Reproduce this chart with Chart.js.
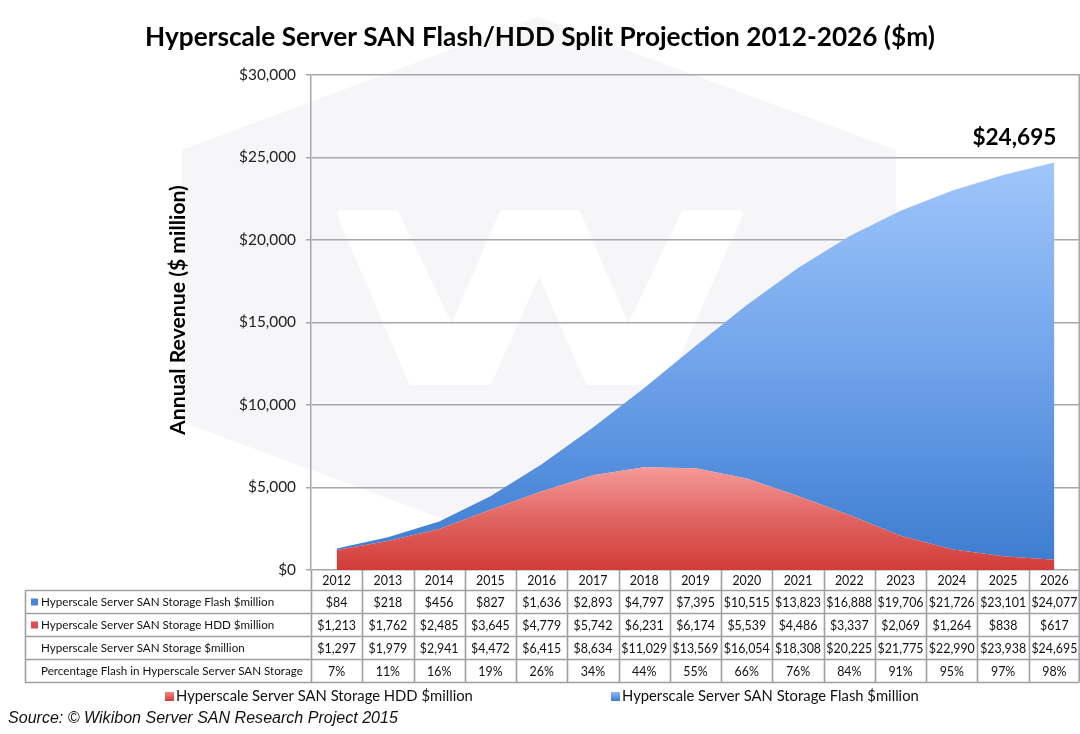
<!DOCTYPE html>
<html><head><meta charset="utf-8">
<script src="https://cdn.jsdelivr.net/npm/chart.js@4/dist/chart.umd.min.js"></script>
<style>html,body{margin:0;padding:0;background:#fff}#wrap{width:1080px;height:734px;position:relative}</style>
</head><body><div id="wrap"><canvas id="c" width="1080" height="734"></canvas></div>
<script>
const years = ['2012','2013','2014','2015','2016','2017','2018','2019','2020','2021','2022','2023','2024','2025','2026'];
const flash = [84,218,456,827,1636,2893,4797,7395,10515,13823,16888,19706,21726,23101,24077];
const hdd = [1213,1762,2485,3645,4779,5742,6231,6174,5539,4486,3337,2069,1264,838,617];
const total = [1297,1979,2941,4472,6415,8634,11029,13569,16054,18308,20225,21775,22990,23938,24695];
const pctFlash = [7,11,16,19,26,34,44,55,66,76,84,91,95,97,98];
const seriesNames = ['Hyperscale Server SAN Storage Flash $million','Hyperscale Server SAN Storage HDD $million'];
const rowLabels = ['Hyperscale Server SAN Storage Flash $million','Hyperscale Server SAN Storage HDD $million','Hyperscale Server SAN Storage $million','Percentage Flash in Hyperscale Server SAN Storage'];
const titleText = 'Hyperscale Server SAN Flash/HDD Split Projection 2012-2026 ($m)';
const yTitle = 'Annual Revenue ($ million)';
const sourceText = 'Source: \u00A9 Wikibon Server SAN Research Project 2015';
const calloutText = '$24,695';

const FAM = 'Lato, "Open Sans", sans-serif';
const mc = document.createElement('canvas').getContext('2d');
function fit(text, weight, family, target, base){ mc.font = weight+' '+base+'px '+family; return base*target/mc.measureText(text).width; }
const money = v => '$' + Number(v).toLocaleString('en-US');
const tickSize = fit('$30,000','normal',FAM,57,14);

function grad(ctx, yTopVal, stops){
  const chart = ctx.chart; if(!chart.chartArea) return stops[stops.length-1];
  const y = chart.scales.y;
  const g = chart.ctx.createLinearGradient(0, y.getPixelForValue(yTopVal), 0, y.getPixelForValue(0));
  stops.forEach((c,i)=>g.addColorStop(i/(stops.length-1), c));
  return g;
}
const blueStops = ['#a0c6fb','#6fa3ea','#3b7bcf'];
const redStops = ['#f59a98','#e06461','#d23c38'];

const bg = {id:'bg', beforeDraw(chart){
  const c = chart.ctx; c.save();
  c.fillStyle = '#fff'; c.fillRect(0,0,chart.width,chart.height);
  c.fillStyle = '#f6f6f8';
  c.beginPath(); c.moveTo(182,150); c.lineTo(538,17); c.lineTo(896,150); c.lineTo(896,422); c.lineTo(538,554); c.lineTo(182,422); c.closePath(); c.fill();
  // white W of the watermark
  c.fillStyle = '#ffffff'; c.lineJoin = 'round'; c.strokeStyle = '#ffffff'; c.lineWidth = 8;
  c.beginPath();
  const W = [[341,214],[395,214],[452,333],[503,214],[577,214],[628,333],[685,214],[739,214],[665,381],[589,381],[539,267],[488,381],[412,381]];
  W.forEach((p,i)=> i? c.lineTo(p[0],p[1]) : c.moveTo(p[0],p[1]));
  c.closePath(); c.fill(); c.stroke();
  c.restore();
}};

const deco = {id:'deco', afterDraw(chart){
  const c = chart.ctx, ca = chart.chartArea, xs = chart.scales.x, ys = chart.scales.y;
  c.save();
  // right border
  c.strokeStyle = '#a6a6ad'; c.lineWidth = 1.5;
  c.beginPath(); c.moveTo(ca.right-0.75, ca.top); c.lineTo(ca.right-0.75, ca.bottom); c.stroke();
  // title
  const ts = fit(titleText,'bold',FAM,790,24);
  c.fillStyle = '#000'; c.font = 'bold '+ts+'px '+FAM; c.textAlign='center'; c.textBaseline='middle';
  c.fillText(titleText, 540, 38);
  // y title
  const ys2 = fit(yTitle,'bold',FAM,250,19);
  c.save(); c.translate(178, 310); c.rotate(-Math.PI/2);
  c.font = 'bold '+ys2+'px '+FAM; c.fillText(yTitle, 0, 0); c.restore();
  // callout
  const last = years.length-1;
  const cs = fit(calloutText,'bold',FAM,84,18);
  c.font = 'bold '+cs+'px '+FAM; c.textAlign='right';
  c.fillText(calloutText, xs.getPixelForValue(last)+2, ys.getPixelForValue(total[last])-25);
  // table
  const colW = xs.getPixelForValue(1) - xs.getPixelForValue(0);
  const L = 25, R = ca.right - 0.75, top = ca.bottom, hdrB = 590.5, rowH = 23;
  const bounds = []; for(let i=0;i<=years.length;i++) bounds.push(Math.round(xs.getPixelForValue(0) - colW/2 + i*colW) + 0.5);
  bounds[bounds.length-1] = R;
  c.strokeStyle = '#a0a0a4'; c.lineWidth = 1.6;
  c.beginPath();
  bounds.forEach(b=>{ c.moveTo(b, top); c.lineTo(b, hdrB + 4*rowH); });
  c.moveTo(L+0.5, hdrB); c.lineTo(L+0.5, hdrB+4*rowH);
  for(let r=0;r<=4;r++){ c.moveTo(L, hdrB + r*rowH); c.lineTo(R, hdrB + r*rowH); }
  c.stroke();
  const vs = fit('$10,515','normal',FAM,46,13);
  c.font = vs+'px '+FAM; c.fillStyle = '#111'; c.textBaseline='middle'; c.textAlign='center';
  years.forEach((y,i)=> c.fillText(y, xs.getPixelForValue(i), 581));
  const rows = [flash.map(money), hdd.map(money), total.map(money), pctFlash.map(v=>v+'%')];
  rows.forEach((vals,r)=>{
    const cy = hdrB + r*rowH + rowH/2 + 0.5;
    vals.forEach((v,i)=> c.fillText(v, xs.getPixelForValue(i), cy));
  });
  const fs = fit(rowLabels[3],'normal',FAM,262,12);
  c.font = fs+'px '+FAM;
  c.textAlign='left';
  rowLabels.forEach((t,r)=>{
    const cy = hdrB + r*rowH + rowH/2 + 0.5;
    c.fillText(t, 41, cy);
  });
  c.fillStyle = '#4a86d8'; c.fillRect(31, hdrB + rowH/2 - 3.5, 7, 7);
  c.fillStyle = '#e04e4c'; c.fillRect(31, hdrB + rowH + rowH/2 - 3.5, 7, 7);
  // legend
  const ls = fit(seriesNames[1],'normal',FAM,297,14);
  c.font = ls+'px '+FAM; c.fillStyle='#111';
  c.fillText(seriesNames[1], 176, 696.5);
  c.fillText(seriesNames[0], 622, 696.5);
  let g = c.createLinearGradient(0,692,0,701); g.addColorStop(0,'#f08a88'); g.addColorStop(1,'#d23c38');
  c.fillStyle = g; c.fillRect(165, 692, 9, 9);
  g = c.createLinearGradient(0,692,0,701); g.addColorStop(0,'#8fb8f3'); g.addColorStop(1,'#3b7bcf');
  c.fillStyle = g; c.fillRect(611, 692, 9, 9);
  // source
  const ss = fit(sourceText,'italic',"'Liberation Sans', Arial, sans-serif",390,15);
  c.font = 'italic '+ss+"px 'Liberation Sans', Arial, sans-serif"; c.fillStyle='#111';
  c.fillText(sourceText, 8, 718.5);
  c.restore();
}};

new Chart(document.getElementById('c'), {
  type: 'line',
  data: { labels: years, datasets: [
    { label: seriesNames[1], data: hdd, fill: 'origin', borderColor: 'transparent', borderWidth: 0, pointRadius: 0, tension: 0,
      backgroundColor: ctx => grad(ctx, Math.max(...hdd), redStops) },
    { label: seriesNames[0], data: flash, fill: '-1', borderColor: 'transparent', borderWidth: 0, pointRadius: 0, tension: 0,
      backgroundColor: ctx => grad(ctx, Math.max(...total), blueStops) }
  ]},
  options: {
    responsive: false, animation: false, devicePixelRatio: 1,
    layout: { padding: { top: 75, right: 0, bottom: 164, left: 0 } },
    plugins: { legend: { display: false }, title: { display: false }, tooltip: { enabled: false } },
    scales: {
      x: { type: 'category', offset: true, display: false },
      y: { stacked: true, min: 0, max: 30000,
        ticks: { stepSize: 5000, callback: v => money(v), font: { family: FAM, size: tickSize }, color: '#222', padding: 10 },
        grid: { color: '#a6a6ad', lineWidth: 1.5, tickLength: 5 },
        border: { color: '#a6a6ad', width: 1.5 },
        afterFit: s => { s.width = 311; } }
    }
  },
  plugins: [bg, deco]
});
</script></body></html>
